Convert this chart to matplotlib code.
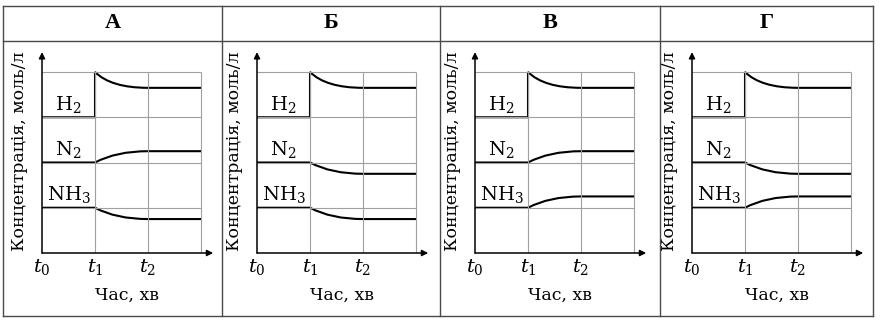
#!/usr/bin/env python3

# Concentration vs time for the N2 + 3H2 <-> 2NH3 equilibrium, four variants
# Usage:
#   $ python3 plot.py

import matplotlib
matplotlib.use('Agg')
import matplotlib.pyplot as plt
from matplotlib.path import Path
from matplotlib.patches import PathPatch
from matplotlib.lines import Line2D

# Panel titles
panels = ['А', 'Б', 'В', 'Г']

# Levels in grid units (before t1, right after t1, after t2)
h2_before = [3, 3, 3, 3]
h2_peak = [4, 4, 4, 4]
h2_after = [3.65, 3.65, 3.65, 3.65]
n2_before = [2, 2, 2, 2]
n2_after = [2.25, 1.75, 2.25, 1.75]
nh3_before = [1, 1, 1, 1]
nh3_after = [0.75, 0.75, 1.25, 1.25]

species = ['H$_2$', 'N$_2$', 'NH$_3$']
time_ticks = [0, 1, 2]
time_labels = ['$t_0$', '$t_1$', '$t_2$']

ylabel = 'Концентрація, моль/л'
xlabel = 'Час, хв'

W, H = 880, 323

plt.rcParams['font.family'] = ['DejaVu Serif']
plt.rcParams['mathtext.fontset'] = 'dejavuserif'


def curve(ax, x1, x2, y_start, y_end, ctrl_frac, prefix):
  # prefix: list of (x, y) straight-line points before the curve
  verts = list(prefix) + [(x1, y_start),
                          (x1 + ctrl_frac * (x2 - x1), y_end),
                          (x2, y_end), (3, y_end)]
  codes = [Path.MOVETO] + [Path.LINETO] * (len(prefix) - 1) + \
          [Path.LINETO, Path.CURVE3, Path.CURVE3, Path.LINETO]
  ax.add_patch(PathPatch(Path(verts, codes), fill=False, color='black',
                         lw=1.5, capstyle='butt', joinstyle='miter'))


def main():

  fig = plt.figure(figsize=(W / 100, H / 100), dpi=100)

  # Table frame (pixel coordinates)
  gray = '#4a4a4a'
  def px_line(xs, ys):
    fig.add_artist(Line2D([x / W for x in xs], [1 - y / H for y in ys],
                          transform=fig.transFigure, color=gray, lw=1.0))

  col_x = [3, 222, 440, 660, 873]
  top, head, bottom = 6, 41, 316
  px_line([col_x[0], col_x[-1]], [top, top])
  px_line([col_x[0], col_x[-1]], [head, head])
  px_line([col_x[0], col_x[-1]], [bottom, bottom])
  for x in col_x:
    px_line([x, x], [top, bottom])

  # Axis origins for each panel
  origin_x = [42, 257, 475, 692]
  origin_y = 253
  ux, uy = 53, 45.25
  xmax, ymax = 3.3, 4.5

  for i, name in enumerate(panels):
    cx = (col_x[i] + col_x[i + 1]) / 2
    fig.text(cx / W, 1 - 23.5 / H, name, ha='center', va='center',
             family='Liberation Serif', fontweight='bold', fontsize=16)

    ax = fig.add_axes([origin_x[i] / W, (H - origin_y) / H,
                       xmax * ux / W, ymax * uy / H])
    ax.set_xlim(0, xmax)
    ax.set_ylim(0, ymax)
    for s in ax.spines.values():
      s.set_visible(False)
    ax.patch.set_visible(False)

    # Grid
    ax.vlines([1, 2, 3], 0, 4, color='#a0a0a0', lw=0.8)
    ax.hlines([1, 2, 3, 4], 0, 3, color='#a0a0a0', lw=0.8)

    # Axes with arrows
    ax.annotate('', xy=(3.23, 0), xytext=(0, 0), annotation_clip=False,
                arrowprops=dict(arrowstyle='-|>', color='black', lw=1.1,
                                mutation_scale=9, shrinkA=0, shrinkB=0))
    ax.annotate('', xy=(0, 4.44), xytext=(0, 0), annotation_clip=False,
                arrowprops=dict(arrowstyle='-|>', color='black', lw=1.1,
                                mutation_scale=9, shrinkA=0, shrinkB=0))

    # H2: step up at t1, then decays
    curve(ax, 1, 2, h2_peak[i], h2_after[i], 0.3,
          [(0, h2_before[i]), (1, h2_before[i])])
    curve(ax, 1, 2, n2_before[i], n2_after[i], 0.4,
          [(0, n2_before[i])])
    curve(ax, 1, 2, nh3_before[i], nh3_after[i], 0.4,
          [(0, nh3_before[i])])

    for lvl, lbl in zip([h2_before[i], n2_before[i], nh3_before[i]], species):
      ax.text(0.5, lvl + 0.17, lbl, ha='center', va='baseline', fontsize=14)

    ax.set_xticks(time_ticks)
    ax.set_xticklabels(time_labels, fontsize=14)
    ax.tick_params(axis='x', length=0, pad=3)
    ax.set_yticks([])
    ax.set_xlabel(xlabel, fontsize=12.5, labelpad=4)
    ax.set_ylabel(ylabel, fontsize=12.5, labelpad=10)
    ax.xaxis.set_label_coords(1.6 / xmax, -0.165)

  fig.savefig('out.png', dpi=100, facecolor='white')


if __name__ == '__main__':
  main()
